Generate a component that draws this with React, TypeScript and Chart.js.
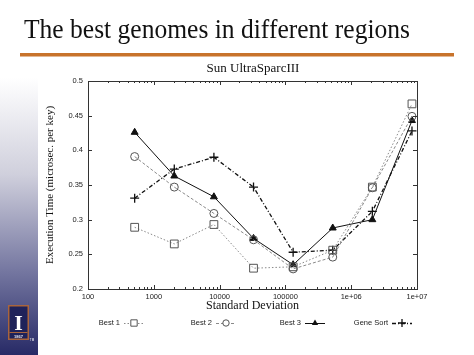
import React, { useEffect, useRef } from 'react';
import { Chart, registerables } from 'chart.js';

Chart.register(...registerables);

const slideTitle = 'The best genomes in different regions';
const chartTitle = 'Sun UltraSparcIII';
const xAxisTitle = 'Standard Deviation';
const yAxisTitle = 'Execution Time (microsec. per key)';

const stdDevs = [512, 2048, 8192, 32768, 131072, 524288, 2097152, 8388608];
const best1 = [0.289, 0.265, 0.293, 0.230, 0.232, 0.256, 0.347, 0.467];
const best2 = [0.391, 0.347, 0.309, 0.271, 0.229, 0.246, 0.346, 0.449];
const best3 = [0.426, 0.363, 0.333, 0.273, 0.235, 0.288, 0.300, 0.443];
const geneSort = [0.331, 0.373, 0.390, 0.347, 0.253, 0.256, 0.312, 0.428];

const seriesNames = ['Best 1', 'Best 2', 'Best 3', 'Gene Sort'];

const xTickValues = [100, 1000, 10000, 100000, 1000000, 10000000];
const xTickLabels = ['100', '1000', '10000', '100000', '1e+06', '1e+07'];
const yTickValues = [0.2, 0.25, 0.3, 0.35, 0.4, 0.45, 0.5];
const yTickLabels = ['0.2', '0.25', '0.3', '0.35', '0.4', '0.45', '0.5'];

const W = 474;
const H = 355;
const SANS = "'Liberation Sans', Arial, Helvetica, sans-serif";
const SERIF = "'Liberation Serif', 'Times New Roman', serif";

function drawMarker(ctx: CanvasRenderingContext2D, style: string, x: number, y: number, r: number, color: string, lw: number) {
  ctx.save();
  ctx.setLineDash([]);
  ctx.strokeStyle = color;
  ctx.lineWidth = lw;
  ctx.beginPath();
  if (style === 'rect') {
    ctx.fillStyle = '#ffffff';
    const s = Math.SQRT1_2 * r;
    ctx.rect(x - s, y - s, 2 * s, 2 * s);
    ctx.fill();
    ctx.stroke();
  } else if (style === 'circle') {
    ctx.fillStyle = '#ffffff';
    ctx.arc(x, y, r, 0, Math.PI * 2);
    ctx.fill();
    ctx.stroke();
  } else if (style === 'triangle') {
    ctx.fillStyle = color;
    ctx.moveTo(x, y - r);
    ctx.lineTo(x + r * 0.9, y + r * 0.6);
    ctx.lineTo(x - r * 0.9, y + r * 0.6);
    ctx.closePath();
    ctx.fill();
  } else if (style === 'cross') {
    ctx.moveTo(x - r, y);
    ctx.lineTo(x + r, y);
    ctx.moveTo(x, y - r);
    ctx.lineTo(x, y + r);
    ctx.stroke();
  }
  ctx.restore();
}

const legendMarkerSize: Record<string, number> = { rect: 4.5, circle: 3.2, triangle: 3.5, cross: 4 };

const slidePlugin = {
  id: 'slideDecor',
  beforeDraw(chart: any) {
    const ctx: CanvasRenderingContext2D = chart.ctx;
    ctx.save();
    ctx.fillStyle = '#ffffff';
    ctx.fillRect(0, 0, W, H);

    // left gradient band
    const g = ctx.createLinearGradient(0, 78, 0, H);
    g.addColorStop(0, '#ffffff');
    g.addColorStop(0.35, '#cfcfdc');
    g.addColorStop(0.7, '#7476a0');
    g.addColorStop(1, '#272a66');
    ctx.fillStyle = g;
    ctx.fillRect(0, 78, 38, H - 78);

    // logo
    ctx.fillStyle = '#a9643c';
    ctx.fillRect(8, 305, 21, 35);
    ctx.fillStyle = '#1f2259';
    ctx.fillRect(9.5, 306.5, 18, 32);
    ctx.fillStyle = '#ffffff';
    ctx.font = `bold 22px ${SERIF}`;
    ctx.textAlign = 'center';
    ctx.textBaseline = 'alphabetic';
    ctx.fillText('I', 18.5, 330);
    ctx.fillStyle = '#a9643c';
    ctx.fillRect(9.5, 332, 18, 1);
    ctx.fillStyle = '#e8e8f0';
    ctx.font = `bold 4px ${SANS}`;
    ctx.fillText('1867', 18.5, 337.5);
    ctx.fillStyle = '#ffffff';
    ctx.font = `3px ${SANS}`;
    ctx.fillText('TM', 32, 341);

    // slide title
    ctx.fillStyle = '#111111';
    ctx.font = `27px ${SERIF}`;
    ctx.textAlign = 'left';
    ctx.textBaseline = 'alphabetic';
    ctx.fillText(slideTitle, 24, 38, 386);

    // orange rule
    ctx.fillStyle = '#c8732b';
    ctx.fillRect(20, 53, 434, 3.5);

    // chart title
    ctx.fillStyle = '#111111';
    ctx.font = `13px ${SERIF}`;
    ctx.textAlign = 'center';
    ctx.fillText(chartTitle, 253, 72);
    ctx.restore();
  },
  afterDraw(chart: any) {
    const ctx: CanvasRenderingContext2D = chart.ctx;
    const { left, right, top, bottom } = chart.chartArea;
    const xs = chart.scales.x;
    const ys = chart.scales.y;
    ctx.save();
    ctx.strokeStyle = '#333333';
    ctx.lineWidth = 1;
    ctx.setLineDash([]);
    ctx.beginPath();
    // inward y ticks
    ys.ticks.forEach((t: any) => {
      const p = Math.round(ys.getPixelForValue(t.value)) + 0.5;
      ctx.moveTo(left, p); ctx.lineTo(left + 4, p);
      ctx.moveTo(right, p); ctx.lineTo(right - 4, p);
    });
    // inward x ticks: majors and minors
    for (let d = 100; d < 1e7 + 1; d *= 10) {
      for (let m = 1; m <= 9; m++) {
        const v = d * m;
        if (v > 1e7) break;
        const p = Math.round(xs.getPixelForValue(v)) + 0.5;
        const len = m === 1 ? 4 : 2;
        ctx.moveTo(p, bottom); ctx.lineTo(p, bottom - len);
        ctx.moveTo(p, top); ctx.lineTo(p, top + len);
      }
    }
    ctx.stroke();
    ctx.strokeRect(Math.round(left) + 0.5, Math.round(top) + 0.5, Math.round(right - left), Math.round(bottom - top));

    // legend
    const legendX = [120, 212, 301, 388];
    const ly = 323;
    chart.data.datasets.forEach((ds: any, i: number) => {
      const tx = legendX[i];
      ctx.fillStyle = '#222222';
      ctx.font = `7.5px ${SANS}`;
      ctx.textAlign = 'right';
      ctx.textBaseline = 'middle';
      ctx.fillText(ds.label, tx, ly);
      const sx = tx + 4;
      const len = 20;
      ctx.save();
      ctx.strokeStyle = ds.borderColor;
      ctx.lineWidth = ds.borderWidth;
      ctx.setLineDash(ds.borderDash || []);
      ctx.beginPath();
      ctx.moveTo(sx, ly + 0.5);
      ctx.lineTo(sx + len, ly + 0.5);
      ctx.stroke();
      ctx.restore();
      drawMarker(ctx, ds.pointStyle, sx + len / 2, ly, legendMarkerSize[ds.pointStyle], ds.pointBorderColor, ds.pointBorderWidth);
    });
    ctx.restore();
  },
};

function toPoints(vals: number[]) {
  return stdDevs.map((x, i) => ({ x, y: vals[i] }));
}

export default function App() {
  const ref = useRef<HTMLCanvasElement | null>(null);
  useEffect(() => {
    if (!ref.current) return;
    const grey = '#8a8a8a';
    const black = '#111111';
    const chart = new Chart(ref.current, {
      type: 'line',
      data: {
        datasets: [
          {
            label: seriesNames[0], data: toPoints(best1), borderColor: grey, borderWidth: 1,
            borderDash: [1.5, 2], pointStyle: 'rect', pointRadius: 5.5, pointBorderColor: '#555555',
            pointBackgroundColor: 'rgba(0,0,0,0)', pointBorderWidth: 1, tension: 0,
          },
          {
            label: seriesNames[1], data: toPoints(best2), borderColor: grey, borderWidth: 1,
            borderDash: [3, 2], pointStyle: 'circle', pointRadius: 4, pointBorderColor: '#555555',
            pointBackgroundColor: 'rgba(0,0,0,0)', pointBorderWidth: 1, tension: 0,
          },
          {
            label: seriesNames[2], data: toPoints(best3), borderColor: black, borderWidth: 1,
            borderDash: [], pointStyle: 'triangle', pointRadius: 4, pointBorderColor: black,
            pointBackgroundColor: black, pointBorderWidth: 1, tension: 0,
          },
          {
            label: seriesNames[3], data: toPoints(geneSort), borderColor: black, borderWidth: 1.3,
            borderDash: [4, 2, 1, 2], pointStyle: 'cross', pointRadius: 4.5, pointBorderColor: black,
            pointBackgroundColor: black, pointBorderWidth: 1.3, tension: 0,
          },
        ],
      },
      options: {
        animation: false,
        responsive: false,
        devicePixelRatio: 1,
        layout: { padding: { left: 44, top: 81, right: 57, bottom: 42 } },
        plugins: { legend: { display: false }, tooltip: { enabled: false }, title: { display: false } },
        scales: {
          x: {
            type: 'logarithmic',
            min: 100,
            max: 10000000,
            afterBuildTicks: (s: any) => { s.ticks = xTickValues.map((v) => ({ value: v })); },
            afterFit: (s: any) => { s.height = 24; },
            grid: { display: false, drawTicks: false },
            border: { display: false },
            ticks: {
              autoSkip: false, maxRotation: 0, padding: 3, color: '#222222',
              font: { family: SANS, size: 7.5 },
              callback: (_v: any, i: number) => xTickLabels[i],
            },
            title: {
              display: true, text: xAxisTitle, color: '#111111', padding: 0,
              font: { family: SERIF, size: 12 },
            },
          },
          y: {
            type: 'linear',
            min: 0.2,
            max: 0.5,
            afterBuildTicks: (s: any) => { s.ticks = yTickValues.map((v) => ({ value: v })); },
            afterFit: (s: any) => { s.width = 44; },
            grid: { display: false, drawTicks: false },
            border: { display: false },
            ticks: {
              autoSkip: false, padding: 5, color: '#222222',
              font: { family: SANS, size: 7.5 },
              callback: (_v: any, i: number) => yTickLabels[i],
            },
            title: {
              display: true, text: yAxisTitle, color: '#111111', padding: 0,
              font: { family: SERIF, size: 11 },
            },
          },
        },
      },
      plugins: [slidePlugin],
    } as any);
    return () => chart.destroy();
  }, []);
  return (
    <div style={{ position: 'fixed', left: 0, top: 0, width: W, height: H, background: '#fff' }}>
      <canvas ref={ref} width={W} height={H} style={{ display: 'block' }} />
    </div>
  );
}
